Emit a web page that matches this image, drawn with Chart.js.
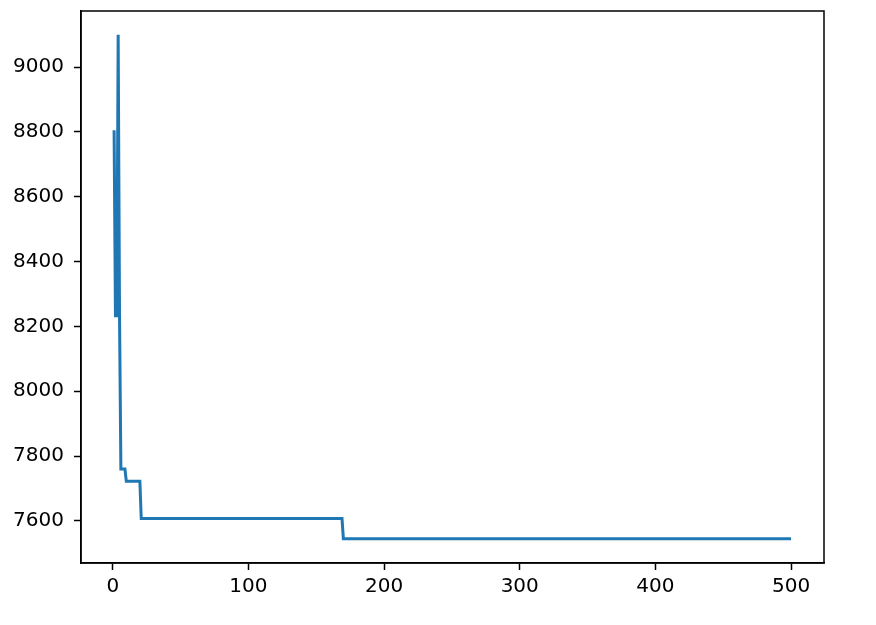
<!DOCTYPE html>
<html>
<head>
<meta charset="utf-8">
<script src="https://cdn.jsdelivr.net/npm/chart.js@4/dist/chart.umd.min.js"></script>
<style>
html,body{margin:0;padding:0;background:#fff;}
#c{display:block;}
</style>
</head>
<body>
<canvas id="c" width="876" height="625"></canvas>
<script>
// Iteration at which the best value changes (step trace), and its value
const iterations = [1, 2, 3, 4, 5, 6, 9, 10, 20, 21, 169, 170, 500];
const bestValues = [8805, 8233, 8233, 9100, 8233, 7760, 7760, 7722, 7722, 7607, 7607, 7545, 7545];
const xTicks = [0, 100, 200, 300, 400, 500];
const yTicks = [7600, 7800, 8000, 8200, 8400, 8600, 8800, 9000];

const points = iterations.map((x, i) => ({x: x, y: bestValues[i]}));

const framePlugin = {
  id: 'frame',
  afterDraw(chart) {
    const a = chart.chartArea, ctx = chart.ctx;
    ctx.save();
    ctx.strokeStyle = '#000';
    ctx.lineWidth = 1.5;
    ctx.strokeRect(a.left, a.top, a.right - a.left, a.bottom - a.top);
    ctx.restore();
  }
};

new Chart(document.getElementById('c'), {
  type: 'line',
  data: {
    datasets: [{
      data: points,
      borderColor: '#1f77b4',
      borderWidth: 3,
      pointRadius: 0,
      tension: 0,
      fill: false,
      borderJoinStyle: 'miter',
      borderCapStyle: 'butt'
    }]
  },
  options: {
    responsive: false,
    devicePixelRatio: 1,
    animation: false,
    layout: {padding: {top: 11, right: 52, left: 0, bottom: 0}},
    plugins: {legend: {display: false}, tooltip: {enabled: false}},
    scales: {
      x: {
        type: 'linear',
        min: -23.4,
        max: 524.3,
        afterBuildTicks(s) { s.ticks = xTicks.map(v => ({value: v})); },
        afterFit(s) { s.height = 62; s.paddingLeft = 0; s.paddingRight = 0; },
        grid: {drawOnChartArea: false, drawTicks: true, tickLength: 7, tickColor: '#000', tickWidth: 1.5},
        border: {display: true, color: '#000', width: 1.5},
        ticks: {color: '#000', padding: 5, maxRotation: 0, font: {family: 'DejaVu Sans', size: 20},
                callback: v => String(v)}
      },
      y: {
        type: 'linear',
        min: 7470,
        max: 9173,
        afterBuildTicks(s) { s.ticks = yTicks.map(v => ({value: v})); },
        afterFit(s) { s.width = 81; s.paddingTop = 0; s.paddingBottom = 0; },
        grid: {drawOnChartArea: false, drawTicks: true, tickLength: 7, tickColor: '#000', tickWidth: 1.5},
        border: {display: true, color: '#000', width: 1.5},
        ticks: {color: '#000', padding: 10, font: {family: 'DejaVu Sans', size: 20},
                callback: v => String(v)}
      }
    }
  },
  plugins: [framePlugin]
});
</script>
</body>
</html>
